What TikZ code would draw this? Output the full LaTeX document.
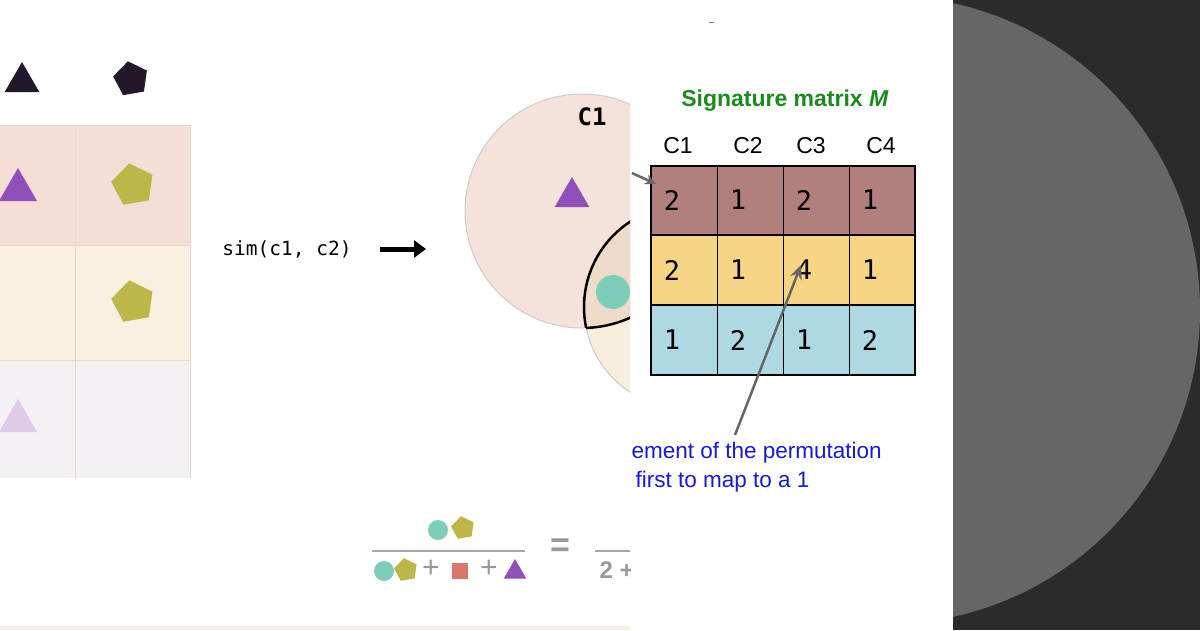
\documentclass[tikz,border=0pt]{standalone}
\usepackage{fontspec}
\setmainfont{Liberation Sans}
\setmonofont{DejaVu Sans Mono}
\usetikzlibrary{shapes.geometric,arrows.meta}
\definecolor{tealc}{HTML}{7ECDB8}
\definecolor{olive}{HTML}{BDB74A}
\definecolor{purp}{HTML}{9150B8}
\definecolor{darkp}{HTML}{22182A}
\definecolor{sq}{HTML}{D9786A}
\definecolor{rowA}{HTML}{B17F7D}
\definecolor{rowB}{HTML}{F7D585}
\definecolor{rowC}{HTML}{ADD8E4}
\definecolor{sigg}{HTML}{1C8A1C}
\definecolor{bluet}{HTML}{1A1ACC}
\definecolor{tA}{HTML}{F6DED6}
\definecolor{tB}{HTML}{F8F0E0}
\definecolor{tC}{HTML}{F4F1F5}
\definecolor{tL}{HTML}{E8D8D0}
\definecolor{cB}{HTML}{F8EEDE}
\definecolor{cA}{HTML}{F5E2DA}
\definecolor{cI}{HTML}{EEDCC8}
\definecolor{strip}{HTML}{FBEDE6}
\definecolor{dark}{HTML}{2B2B2B}
\definecolor{grc}{HTML}{666666}
\tikzset{
 tri/.style={regular polygon,regular polygon sides=3,inner sep=0pt,minimum size=#1},
 pent/.style={regular polygon,regular polygon sides=5,inner sep=0pt,minimum size=#1,rotate=10},
 dot/.style={circle,inner sep=0pt,minimum size=#1},
 cell/.style={font=\ttfamily\fontsize{27}{27}\selectfont,anchor=center},
 hdr/.style={font=\fontsize{23}{23}\selectfont},
 op/.style={text=gray!80,font=\bfseries\fontsize{24}{24}\selectfont}
}
\begin{document}
\begin{tikzpicture}[x=1pt,y=-1pt]
\useasboundingbox (0,0) rectangle (1200,630);
\fill[white] (0,0) rectangle (1200,630);
% left panel table
\fill[tA] (0,125) rectangle (190,245);
\fill[tB] (0,245) rectangle (190,360);
\fill[tC] (0,360) rectangle (190,478);
\draw[tL,line width=1pt] (75,125) -- (75,478) (0,125) -- (190,125) -- (190,478) (0,245) -- (190,245) (0,360) -- (190,360);
\node[tri=40pt,fill=darkp] (h1) at (22,82) {};
\node[pent=36pt,fill=darkp] (h2) at (131,79) {};
\node[tri=44pt,fill=purp] (t1) at (18,190) {};
\node[pent=44pt,fill=olive] (p1) at (133,185) {};
\node[pent=44pt,fill=olive] (p2) at (133,302) {};
\node[tri=44pt,fill=purp!30] (t3) at (18,421) {};
\node[font=\ttfamily\fontsize{19.5}{19.5}\selectfont] (sim) at (287,249) {sim(c1, c2)};
\coordinate (a1) at (380,249); \coordinate (a2) at (426,249);
\draw[line width=5pt,-{Triangle[length=12pt,width=17pt]}] (a1) -- (a2);
% circles, clipped
\begin{scope}
\clip (0,0) rectangle (630,630);
\fill[cB] (686,307) circle (102);
\draw[gray!40,line width=1pt] (686,307) circle (102);
\fill[cA] (582,211) circle (117);
\draw[gray!40,line width=1pt] (582,211) circle (117);
\begin{scope}
\clip (582,211) circle (117);
\fill[cI] (686,307) circle (102);
\draw[black,line width=2.5pt] (686,307) circle (102);
\end{scope}
\begin{scope}
\clip (686,307) circle (102);
\draw[black,line width=2.5pt] (582,211) circle (117);
\end{scope}
\node[dot=34pt,fill=tealc] (tc) at (613,292) {};
\node[tri=40pt,fill=purp] (t2) at (572,197) {};
\node[font=\ttfamily\bfseries\fontsize{24}{24}\selectfont] (c1) at (592,117) {C1};
% formula
\draw[gray!70,line width=2.5pt] (372,551) -- (525,551) (595,551) -- (640,551);
\node[op,font=\bfseries\fontsize{34}{34}\selectfont] at (560,548) {=};
\node[op,anchor=west] at (596,570) {2 +};
\end{scope}
\node[dot=20pt,fill=tealc] (n1) at (438,530) {};
\node[pent=24pt,fill=olive] (n2) at (463,528) {};
\node[dot=20pt,fill=tealc] (d1) at (384,571) {};
\node[pent=24pt,fill=olive] (d2) at (406,570) {};
\node[op,font=\fontsize{30}{30}\selectfont] at (431,569) {+};
\node[fill=sq,minimum size=16pt,inner sep=0pt] (d3) at (460,571) {};
\node[op,font=\fontsize{30}{30}\selectfont] at (489,569) {+};
\node[tri=26pt,fill=purp] (d4) at (515,572) {};
\fill[strip] (0,626) rectangle (630,630);
% right dark panel
\fill[dark] (953,0) rectangle (1200,630);
\begin{scope}
\clip (953,0) rectangle (1200,630);
\fill[grc] (886,310) circle (314);
\end{scope}
% signature matrix
\node[text=sigg,font=\bfseries\fontsize{23}{23}\selectfont] (title) at (785,101) {Signature matrix \textit{M}};
\draw[gray] (709,22) -- (714,22);
\foreach \x/\t in {678/C1,748/C2,811/C3,881/C4} \node[hdr] at (\x,146) {\t};
\foreach \ya/\yb/\c in {166/235/rowA,235/305/rowB,305/375/rowC}
  \fill[\c] (651,\ya) rectangle (915,\yb);
\draw[line width=2.5pt] (651,166) rectangle (915,375) (651,235) -- (915,235) (651,305) -- (915,305);
\draw[line width=1pt] (717,166) -- (717,375) (783,166) -- (783,375) (849,166) -- (849,375);
\foreach \r/\y in {{2,1,2,1}/200,{2,1,4,1}/270,{1,2,1,2}/340}{
  \foreach \v [count=\i] in \r
    \node[cell] at (672+66*\i-66,\y) {\v};
}
\coordinate (b1) at (735,435); \coordinate (b2) at (801,265);
\draw[gray!80!black,line width=2.5pt,-{Stealth[length=14pt,width=12pt]}] (b1) -- (b2);
\coordinate (e1) at (632,173); \coordinate (e2) at (656,184);
\draw[gray!80!black,line width=2.5pt,-{Stealth[length=11pt,width=10pt]}] (e1) -- (e2);
\node[text=bluet,anchor=west,font=\fontsize{22.5}{22.5}\selectfont] (l1) at (628,453) {ement of the permutation};
\node[text=bluet,anchor=west,font=\fontsize{22.5}{22.5}\selectfont] (l2) at (632,482) {first to map to a 1};
\end{tikzpicture}
\end{document}
